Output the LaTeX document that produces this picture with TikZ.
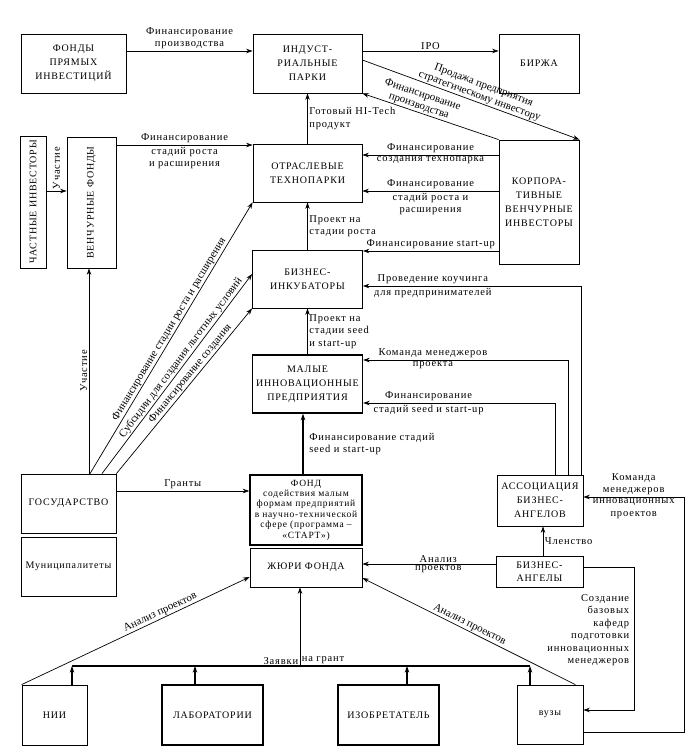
\documentclass[tikz,border=0pt]{standalone}
\usepackage{fontspec}
\setmainfont{Liberation Serif}
\newfontfamily\boxfont[LetterSpace=8]{Liberation Serif}
\newfontfamily\labfont[LetterSpace=8]{Liberation Serif}
\usetikzlibrary{arrows.meta}

\begin{document}
\begin{tikzpicture}[
    x=1pt, y=-1pt,
    box/.style={rectangle, draw, line width=0.8pt, inner sep=0pt, align=center,
        font=\boxfont\fontsize{10}{14}\selectfont},
    boldbox/.style={box, line width=1.4pt},
    lab/.style={font=\labfont\fontsize{10.5}{12.5}\selectfont, align=center, inner sep=1.5pt},
    slab/.style={lab, sloped, font=\rmfamily\fontsize{11}{11.5}\selectfont, inner sep=1pt},
    flow/.style={->, >={Stealth[length=6.5pt,width=4.5pt]}, line width=0.7pt},
    bus/.style={line width=1.4pt}
]
\fill[white] (0,0) rectangle (697,756);
\useasboundingbox (0,0) rectangle (697,756);

% Blocks
\node[box, minimum width=105, minimum height=59] (fpi) at (73.5,63.5) {ФОНДЫ\\ПРЯМЫХ\\ИНВЕСТИЦИЙ};
\node[box, minimum width=109, minimum height=59] (indust) at (307.5,63.5) {ИНДУСТ-\\РИАЛЬНЫЕ\\ПАРКИ};
\node[box, minimum width=80, minimum height=59] (birzha) at (539,63.5) {БИРЖА};
\node[box, minimum width=80, minimum height=124] (korp) at (539,202) {КОРПОРА-\\ТИВНЫЕ\\ВЕНЧУРНЫЕ\\ИНВЕСТОРЫ};
\node[box, minimum width=109, minimum height=58] (otr) at (307.5,173) {ОТРАСЛЕВЫЕ\\ТЕХНОПАРКИ};
\node[box, minimum width=110, minimum height=58] (inkub) at (307.5,279) {БИЗНЕС-\\ИНКУБАТОРЫ};
\node[boldbox, minimum width=110, minimum height=58] (mip) at (307.5,384) {МАЛЫЕ\\ИННОВАЦИОННЫЕ\\ПРЕДПРИЯТИЯ};
\node[boldbox, minimum width=112, minimum height=70, font=\labfont\fontsize{9.5}{10.4}\selectfont] (fond) at (306,510)
    {{\boxfont ФОНД}\\содействия малым\\формам предприятий\\в научно-технической\\сфере (программа –\\«СТАРТ»)};
\node[box, minimum width=112, minimum height=39] (jury) at (306,567.5) {ЖЮРИ ФОНДА};
\node[box, line width=1pt, rotate=90, minimum width=132, minimum height=26] (chast) at (33,202) {ЧАСТНЫЕ ИНВЕСТОРЫ};
\node[box, rotate=90, minimum width=131, minimum height=49] (vench) at (91.5,202.5) {ВЕНЧУРНЫЕ ФОНДЫ};
\node[box, minimum width=95, minimum height=59] (gos) at (68.5,503.5) {ГОСУДАРСТВО};
\node[box, minimum width=95, minimum height=59, font=\labfont\fontsize{10}{12}\selectfont] (mun) at (68.5,566.5) {Муниципалитеты};
\node[box, minimum width=86, minimum height=51] (assoc) at (540,500.5) {АССОЦИАЦИЯ\\БИЗНЕС-\\АНГЕЛОВ};
\node[box, minimum width=87, minimum height=31, font=\boxfont\fontsize{10}{13}\selectfont] (angely) at (539.5,571.5) {БИЗНЕС-\\АНГЕЛЫ};
\node[box, minimum width=65, minimum height=60] (nii) at (54.5,715) {НИИ};
\node[boldbox, minimum width=101, minimum height=60] (labs) at (212.5,715) {ЛАБОРАТОРИИ};
\node[boldbox, minimum width=101, minimum height=60] (izobr) at (388.5,715) {ИЗОБРЕТАТЕЛЬ};
\node[box, minimum width=66, minimum height=59, font=\labfont\fontsize{10}{12}\selectfont] (vuzy) at (550,714.5) {вузы};

% Top row
\draw[flow] (fpi.east |- 0,51) -- node[lab, above] {Финансирование\\производства} (indust.west |- 0,51);
\draw[flow] (indust.east |- 0,51) -- node[lab, above] {IPO} (birzha.west |- 0,51);
\draw[flow] (indust.east |- 0,60) -- node[slab, above, pos=0.53] {Продажа предприятия\\стратегическому инвестору} (korp.north east);
\draw[flow, <-] (indust.south east) -- node[slab, above, pos=0.4] {Финансирование\\производства} (korp.north west);
\draw[flow] (otr.north) -- node[lab, right, align=left] {Готовый HI-Tech\\продукт} (indust.south);

% Corporate investors
\draw[flow] (korp.west |- 0,155) -- node[lab, above] {Финансирование} node[lab, below] {создания технопарка} (otr.east |- 0,155);
\draw[flow] (korp.west |- 0,191) -- node[lab, above] {Финансирование} node[lab, below] {стадий роста и\\расширения} (otr.east |- 0,191);
\draw[flow] (korp.west |- 0,251) -- node[lab, above] {Финансирование start-up} (inkub.east |- 0,251);

% Venture funds
\draw[flow] (chast.south |- 0,191) -- node[lab, rotate=90, anchor=west] {Участие} (vench.north |- 0,191);
\draw[flow] (vench.south |- 0,145) -- node[lab, above] {Финансирование} node[lab, below] {стадий роста\\и расширения} (otr.west |- 0,145);

% State
\draw[flow] (gos.north -| 89,0) -- node[lab, rotate=90, above] {Участие} (vench.west -| 89,0);
\draw[flow] (gos.north -| 90,0) -- node[slab, above, pos=0.52] {Финансирование стадии роста и расширения} (otr.south west);
\draw[flow] (gos.north -| 102,0) -- node[slab, above, pos=0.56] {Субсидии для создания льготных условий} (inkub.west |- 0,274);
\draw[flow] (gos.north east) -- node[slab, above, pos=0.58] {Финансирование создания} (inkub.south west);
\draw[flow] (gos.east |- 0,491) -- node[lab, above] {Гранты} (fond.west |- 0,491);

% Centre column
\draw[flow] (inkub.north) -- node[lab, right, align=left] {Проект на\\стадии роста} (otr.south);
\draw[flow] (mip.north) -- node[lab, right, align=left] {Проект на\\стадии seed\\и start-up} (inkub.south);
\draw[flow, line width=1.6pt] (fond.north -| 303,0) -- node[lab, right, align=left, xshift=4pt] {Финансирование стадий\\seed и start-up} (mip.south -| 303,0);

% Business angels
\draw[flow] ([xshift=-2pt]assoc.north east) |- node[lab, above, pos=0.84] {Проведение коучинга} node[lab, below, pos=0.84] {для предпринимателей} ([yshift=-7pt]inkub.east);
\draw[flow] ([xshift=-15pt]assoc.north east) |- node[lab, above, pos=0.83] {Команда менеджеров} node[lab, below, pos=0.83] {проекта} ([yshift=24pt]mip.east);
\draw[flow] ([xshift=-28pt]assoc.north east) |- node[lab, above, pos=0.83] {Финансирование} node[lab, below, pos=0.83] {стадий seed и start-up} ([yshift=-19pt]mip.east);
\draw[flow] (angely.north -| 543,0) -- node[lab, right] {Членство} (assoc.south -| 543,0);
\draw[flow] (angely.west |- 0,564) -- node[lab, above, pos=0.43] {Анализ} node[lab, below, pos=0.43] {проектов} (jury.east |- 0,564);
\draw[flow] (vuzy.east |- 0,732) -| (684,497) -- node[lab, above] {Команда\\менеджеров} node[lab, below] {инновационных\\проектов} (assoc.east |- 0,497);
\draw[flow] (angely.east |- 0,567) -| node[lab, left, align=right, pos=0.72, xshift=-3pt] {Создание\\базовых\\кафедр\\подготовки\\инновационных\\менеджеров} (634,710) -- (vuzy.east |- 0,710);

% Applications
\coordinate (busL) at (72,666);
\coordinate (busR) at (530,666);
\coordinate (busJ) at (300,666);
\draw[bus] (busL) -- (busR);
\foreach \src/\bx in {nii/72, labs/195, izobr/407, vuzy/530}
    \draw[flow, line width=1.2pt] (\src.north -| \bx,0) -- (busL -| \bx,0);
\draw[flow] (busJ) -- node[lab, above left, pos=0] {Заявки} node[lab, above right, pos=0] {на грант} (jury.south -| busJ);
\draw[flow] (nii.north west) -- node[slab, above, pos=0.62] {Анализ проектов} (jury.west |- 0,577);
\draw[flow, <-] (jury.east |- 0,578) -- node[slab, above, pos=0.49] {Анализ проектов} ([xshift=-8pt]vuzy.north east);

\end{tikzpicture}
\end{document}
